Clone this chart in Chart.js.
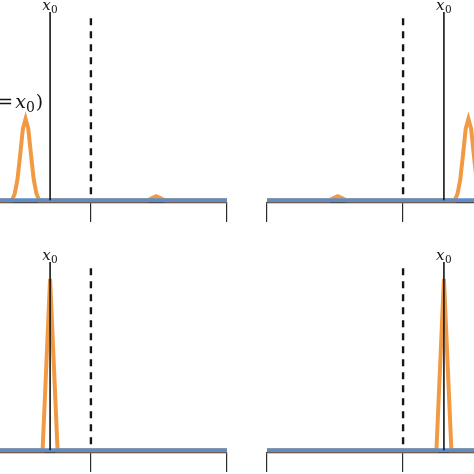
<!DOCTYPE html>
<html>
<head>
<meta charset="utf-8">
<script src="https://cdn.jsdelivr.net/npm/chart.js@4.4.0/dist/chart.umd.min.js"></script>
<style>
  html, body { margin: 0; padding: 0; background: #fff; }
  #stage { position: relative; width: 474px; height: 474px; overflow: hidden; background: #fff; }
  #stage canvas { position: absolute; }
</style>
</head>
<body>
<div id="stage">
  <canvas id="tl" width="340" height="237" style="left:-100px;top:0px"></canvas>
  <canvas id="tr" width="340" height="237" style="left:253px;top:0px"></canvas>
  <canvas id="bl" width="340" height="237" style="left:-100px;top:250px"></canvas>
  <canvas id="br" width="340" height="237" style="left:253px;top:250px"></canvas>
</div>
<script>
// positions along x (the wall sits at 0)
const WALL = 0;
const X0_LEFT = -3;
const X0_RIGHT = 3;
const RANGE_LEFT = [-13, 10];
const RANGE_RIGHT = [-10, 13];
const TICKS_LEFT = [-13, 0, 10];
const TICKS_RIGHT = [-10, 0, 13];
const X0_TOP = 1.0;
const WALL_TOP = 0.967;

// top row: wide packet + small reflected bump
const wideLeftX = [-13, -5.8, -5.6, -5.4, -5.2, -5.0, -4.8, -4.6, -4.4, -4.2, -4.0, -3.8, 4.2, 4.5, 4.8, 5.1, 5.4, 10];
const wideLeftY = [0, 0, 0.035, 0.11, 0.24, 0.38, 0.433, 0.38, 0.24, 0.11, 0.035, 0, 0, 0.012, 0.022, 0.012, 0, 0];
const wideRightX = [-10, -5.4, -5.1, -4.8, -4.5, -4.2, 3.8, 4.0, 4.2, 4.4, 4.6, 4.8, 5.0, 5.2, 5.4, 5.6, 5.8, 13];
const wideRightY = [0, 0, 0.012, 0.022, 0.012, 0, 0, 0.035, 0.11, 0.24, 0.38, 0.433, 0.38, 0.24, 0.11, 0.035, 0, 0];

// bottom row: narrow packet sitting on x0
const narrowLeftX = [-13, -3.55, -3.0, -2.45, 10];
const narrowLeftY = [0, 0, 0.91, 0, 0];
const narrowRightX = [-10, 2.45, 3.0, 3.55, 13];
const narrowRightY = [0, 0, 0.91, 0, 0];

// partial caption at the left edge
const CAPTION_END_X = -3.5;
const CAPTION_Y = 0.49;

const ORANGE = '#f29a43';
const BLUE = '#5f8cc4';
const INK = '#151515';

function toPoints(xs, ys) {
  return xs.map((x, i) => ({ x, y: ys[i] }));
}

function x0Label(x0, caption) {
  return {
    id: 'x0label',
    afterDatasetsDraw(chart) {
      const { ctx, scales: { x, y } } = chart;
      const px = x.getPixelForValue(x0);
      const py = y.getPixelForValue(X0_TOP) - 2.5;
      ctx.save();
      ctx.fillStyle = INK;
      ctx.textBaseline = 'alphabetic';
      ctx.font = 'italic 15px "DejaVu Serif"';
      ctx.textAlign = 'right';
      ctx.fillText('x', px + 0.5, py);
      ctx.font = '10.5px "DejaVu Serif"';
      ctx.textAlign = 'left';
      ctx.fillText('0', px + 1, py + 3.2);

      if (caption) {
        // "= x0)" , laid out right to left so it ends at CAPTION_END_X
        let cx = x.getPixelForValue(CAPTION_END_X);
        const cy = y.getPixelForValue(CAPTION_Y);
        ctx.textAlign = 'right';
        ctx.font = '19px "DejaVu Serif"';
        ctx.fillText(')', cx, cy);
        cx -= ctx.measureText(')').width + 1;
        ctx.font = '14px "DejaVu Serif"';
        ctx.fillText('0', cx, cy + 4);
        cx -= ctx.measureText('0').width;
        ctx.font = 'italic 19px "DejaVu Serif"';
        ctx.fillText('x', cx, cy);
        cx -= ctx.measureText('x').width + 2;
        ctx.font = '19px "DejaVu Serif"';
        ctx.fillText('=', cx, cy);
      }
      ctx.restore();
    }
  };
}

function makePanel(id, range, ticks, curveX, curveY, x0, caption) {
  const line = (data, color, width, order, dash) => ({
    data, showLine: true, borderColor: color, borderWidth: width,
    borderDash: dash || [], pointRadius: 0, fill: false, tension: 0, order
  });

  return new Chart(document.getElementById(id), {
    type: 'scatter',
    data: {
      datasets: [
        line([{ x: x0, y: 0 }, { x: x0, y: X0_TOP }], INK, 1.6, 0),
        line([{ x: WALL, y: WALL_TOP }, { x: WALL, y: 0 }], INK, 2.4, 1, [7, 6]),
        line([{ x: range[0], y: 0 }, { x: range[1], y: 0 }], BLUE, 4, 2),
        line(toPoints(curveX, curveY), ORANGE, 4, 3)
      ]
    },
    options: {
      responsive: false,
      animation: false,
      events: [],
      layout: { padding: { left: 14, right: 13, top: 12, bottom: 15 } },
      plugins: { legend: { display: false }, tooltip: { enabled: false } },
      scales: {
        x: {
          type: 'linear',
          min: range[0],
          max: range[1],
          afterBuildTicks: (axis) => { axis.ticks = ticks.map(v => ({ value: v })); },
          ticks: { display: false },
          grid: { drawOnChartArea: false, drawTicks: true, tickLength: 19, color: '#2a2a2a', lineWidth: 1.2 },
          border: { display: true, color: '#4a3426', width: 1.3 }
        },
        y: { display: false, min: -0.014, max: 1 }
      }
    },
    plugins: [x0Label(x0, caption)]
  });
}

makePanel('tl', RANGE_LEFT, TICKS_LEFT, wideLeftX, wideLeftY, X0_LEFT, true);
makePanel('tr', RANGE_RIGHT, TICKS_RIGHT, wideRightX, wideRightY, X0_RIGHT, false);
makePanel('bl', RANGE_LEFT, TICKS_LEFT, narrowLeftX, narrowLeftY, X0_LEFT, false);
makePanel('br', RANGE_RIGHT, TICKS_RIGHT, narrowRightX, narrowRightY, X0_RIGHT, false);
</script>
</body>
</html>
